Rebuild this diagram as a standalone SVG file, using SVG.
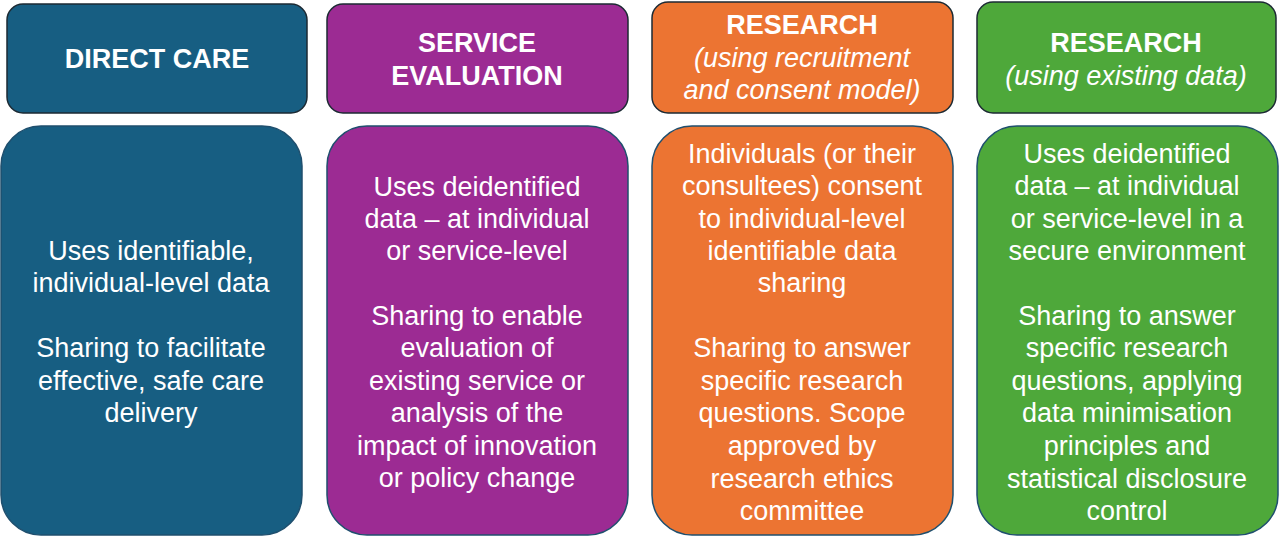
<svg xmlns="http://www.w3.org/2000/svg" width="1280" height="543" viewBox="0 0 1280 543">
<style>
.h{font-family:"Liberation Sans",Arial,sans-serif;font-size:27px;font-weight:bold;fill:#fff;text-anchor:middle}
.i{font-family:"Liberation Sans",Arial,sans-serif;font-size:27px;font-style:italic;fill:#fff;text-anchor:middle}
.t{font-family:"Liberation Sans",Arial,sans-serif;font-size:27px;fill:#fff;text-anchor:middle}
.hb{stroke:#1c2a33;stroke-width:1.5}
.bb{stroke:#1f4f6e;stroke-width:1.5}
</style>
<rect width="1280" height="543" fill="#fff"/>
<g id="direct-care-head"><rect class="hb" x="7" y="4" width="300" height="109" rx="16" fill="#175e82"/>
<text class="h" x="157" y="68">DIRECT CARE</text></g>
<g id="service-eval-head"><rect class="hb" x="327" y="4" width="301" height="109" rx="16" fill="#9c2b93"/>
<text class="h" x="477" y="52">SERVICE</text><text class="h" x="477" y="85">EVALUATION</text></g>
<g id="research-consent-head"><rect class="hb" x="652" y="2" width="301" height="111" rx="16" fill="#ec7432"/>
<text class="h" x="802" y="34">RESEARCH</text><text class="i" x="802" y="67">(using recruitment</text><text class="i" x="802" y="99">and consent model)</text></g>
<g id="research-existing-head"><rect class="hb" x="977" y="2" width="299" height="111" rx="16" fill="#4ea83a"/>
<text class="h" x="1126" y="52">RESEARCH</text><text class="i" x="1126" y="85">(using existing data)</text></g>

<g id="direct-care-body"><rect class="bb" x="1" y="126" width="301" height="409" rx="40" fill="#175e82"/>
<text class="t" x="151" y="260">Uses identifiable,</text>
<text class="t" x="151" y="292">individual-level data</text>
<text class="t" x="151" y="357">Sharing to facilitate</text>
<text class="t" x="151" y="390">effective, safe care</text>
<text class="t" x="151" y="422">delivery</text></g>

<g id="service-eval-body"><rect class="bb" x="327" y="126" width="301" height="409" rx="40" fill="#9c2b93"/>
<text class="t" x="477" y="196">Uses deidentified</text>
<text class="t" x="477" y="228">data – at individual</text>
<text class="t" x="477" y="260">or service-level</text>
<text class="t" x="477" y="325">Sharing to enable</text>
<text class="t" x="477" y="357">evaluation of</text>
<text class="t" x="477" y="390">existing service or</text>
<text class="t" x="477" y="422">analysis of the</text>
<text class="t" x="477" y="455">impact of innovation</text>
<text class="t" x="477" y="487">or policy change</text></g>

<g id="research-consent-body"><rect class="bb" x="652" y="126" width="301" height="409" rx="40" fill="#ec7432"/>
<text class="t" x="802" y="163">Individuals (or their</text>
<text class="t" x="802" y="195">consultees) consent</text>
<text class="t" x="802" y="228">to individual-level</text>
<text class="t" x="802" y="260">identifiable data</text>
<text class="t" x="802" y="292">sharing</text>
<text class="t" x="802" y="357">Sharing to answer</text>
<text class="t" x="802" y="390">specific research</text>
<text class="t" x="802" y="422">questions. Scope</text>
<text class="t" x="802" y="455">approved by</text>
<text class="t" x="802" y="488">research ethics</text>
<text class="t" x="802" y="520">committee</text></g>

<g id="research-existing-body"><rect class="bb" x="977" y="126" width="301" height="409" rx="40" fill="#4ea83a"/>
<text class="t" x="1127" y="163">Uses deidentified</text>
<text class="t" x="1127" y="195">data – at individual</text>
<text class="t" x="1127" y="228">or service-level in a</text>
<text class="t" x="1127" y="260">secure environment</text>
<text class="t" x="1127" y="325">Sharing to answer</text>
<text class="t" x="1127" y="357">specific research</text>
<text class="t" x="1127" y="390">questions, applying</text>
<text class="t" x="1127" y="422">data minimisation</text>
<text class="t" x="1127" y="455">principles and</text>
<text class="t" x="1127" y="488">statistical disclosure</text>
<text class="t" x="1127" y="520">control</text></g>
<g id="connectors"/>
</svg>
